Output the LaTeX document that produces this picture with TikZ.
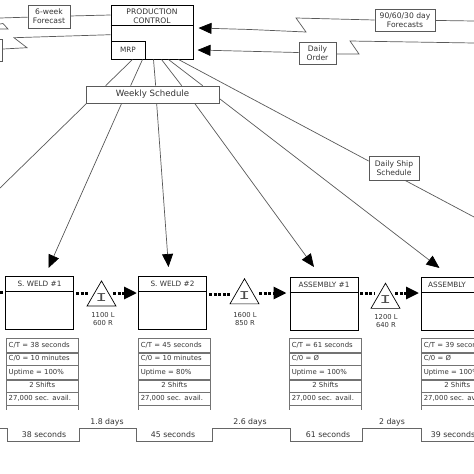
\documentclass[tikz,border=0pt]{standalone}
\usepackage{fontspec}
\setmainfont{DejaVu Sans}
\newfontfamily\beamfont{Liberation Mono}
\usetikzlibrary{arrows.meta}
\usetikzlibrary{positioning}
\usetikzlibrary{calc}
\usetikzlibrary{shapes.geometric}
\tikzset{
  infobox/.style={draw=black!65, line width=0.7pt, fill=white, align=center, text=black!80, font=\fontsize{7.6}{9}\selectfont, inner sep=0},
  procbox/.style={draw=black, line width=1pt, minimum width=68pt, minimum height=53pt, inner sep=0},
  databox/.style={draw=black!55, line width=0.5pt, minimum width=72pt, inner sep=0, anchor=north west, text=black!80, font=\fontsize{6.9}{8}\selectfont, text width=67pt, text height=5pt, text depth=1pt},
  invtri/.style={draw=black, line width=0.7pt, fill=white, regular polygon, regular polygon sides=3, inner sep=0, minimum size=33.5pt, text=black!70},
  flowline/.style={draw=black!65, line width=0.7pt},
  headline/.style={flowline, -{Triangle[length=13pt,width=11pt,black]}},
  pushline/.style={draw=black, line width=3pt, dash pattern=on 3.2pt off 1.4pt},
  pusharrow/.style={pushline, -{Triangle[length=13pt,width=12pt,black]}},
  lbl/.style={inner sep=0, align=center, text=black!80, font=\fontsize{7.3}{9}\selectfont},
  timelbl/.style={lbl, font=\fontsize{7.8}{9}\selectfont},
  stocklbl/.style={lbl, font=\fontsize{6.8}{8}\selectfont},
}
\begin{document}
\begin{tikzpicture}[x=1pt,y=-1pt]
  \useasboundingbox (0,0) rectangle (474,474);

  % production control
  \node[draw, line width=1pt, minimum width=82pt, minimum height=54pt, inner sep=0] (prod) at (152,32) {};
  \node[lbl, font=\fontsize{7.6}{9}\selectfont] (prodtxt) at (152,16) {PRODUCTION\\CONTROL};
  \draw[line width=1pt] ($(prod.north west)+(0,21)$) -- ($(prod.north east)+(0,21)$);
  \node[lbl, draw=black, line width=1pt, minimum width=34pt, minimum height=18pt, anchor=south west] (mrp) at (prod.south west) {MRP};

  % info boxes at the top
  \node[infobox, minimum width=42pt, minimum height=23pt] (fc6) at (49,16.5) {6-week\\Forecast};
  \node[infobox, minimum width=60pt, minimum height=22pt] (fc90) at (405,20) {90/60/30 day\\Forecasts};
  \node[infobox, minimum width=37pt, minimum height=22pt] (order) at (317.5,53) {Daily\\Order};
  \node[draw=black!65, line width=0.7pt, minimum width=8pt, minimum height=22pt, inner sep=0] (leftbox) at (-1.3,50) {};

  % connectors on the left
  \coordinate (edgeA) at (0,18);
  \draw[flowline] (edgeA) -- (fc6);
  \draw[flowline] (fc6) -- ($(prod.west)+(0,-17)$);
  \draw[flowline] ($(prod.west)+(0,2.7)$) -- (14,37.7) -- (27,47.7) -- ($(leftbox.east)+(0,-1)$);
  \draw[flowline] (0,24) -- (3,23.5) -- (8,29) -- (0,29);

  % connectors on the right
  \coordinate (edgeB) at (474,21);
  \coordinate (edgeC) at (474,43);
  \coordinate (tipA) at ($(prod.east)+(5,-4)$);
  \coordinate (tipB) at ($(prod.east)+(4,18)$);
  \draw[flowline] (fc90) -- (edgeB);
  \draw[flowline] (fc90.west) -- (296,18) -- (306,32) -- (250,29.5);
  \draw[headline] (250,29.5) -- (tipA);
  \draw[flowline] (order.east |- 0,54) -- (359,54) -- (350,41) -- (edgeC);
  \draw[headline] (order) -- (tipB);

  % weekly schedule and daily ship schedule
  \node[infobox, minimum width=133pt, minimum height=17pt, font=\fontsize{8.6}{9}\selectfont] (weekly) at (152.5,94.5) {Weekly Schedule};
  \node[infobox, minimum width=50pt, minimum height=24pt] (ship) at (394,168) {Daily Ship\\Schedule};
  \foreach \a/\b in {22/20,32/45,43/70,51/96,58/117}
    \draw[flowline] ($(prod.south west)+(\a,0)$) -- ($(weekly.north west)+(\b,0)$);
  \draw[flowline] ($(prod.south west)+(68,0)$) -- ($(ship.west)+(0,-7)$);
  \coordinate (edgeD) at (474,217);
  \coordinate (edgeE) at (0,188);
  \draw[flowline] ($(ship.south)+(11,0)$) -- (edgeD);
  \draw[flowline] ($(weekly.south west)+(1,0)$) -- (edgeE);

  % the process boxes
  \foreach \nm/\px/\py in {weld1/5/276,weld2/138/276,asm1/289.5/277,asm2/421/277} {
    \node[procbox, anchor=north west] (\nm) at (\px,\py) {};
    \draw[line width=1pt] ($(\nm.north west)+(0,15)$) -- ($(\nm.north east)+(0,15)$);
  }
  \node[lbl] (weld1txt) at ($(weld1.north)+(0,8)$) {S. WELD \#1};
  \node[lbl] (weld2txt) at ($(weld2.north)+(0,8)$) {S. WELD \#2};
  \node[lbl] (asm1txt) at ($(asm1.north)+(0,8)$) {ASSEMBLY \#1};
  \node[lbl, anchor=west] (asm2txt) at (428,285) {ASSEMBLY};

  % schedule arrows into the boxes
  \coordinate (tipC) at ($(weld1.north)+(9,-8)$);
  \coordinate (tipD) at ($(weld2.north)+(-4,-9)$);
  \coordinate (tipE) at ($(asm1.north)+(-10,-10)$);
  \coordinate (tipF) at ($(asm2.north)+(-16,-9)$);
  \draw[headline] ($(weekly.south west)+(36,0)$) -- (tipC);
  \draw[headline] ($(weekly.south west)+(71,0)$) -- (tipD);
  \draw[headline] ($(weekly.south west)+(109,0)$) -- (tipE);
  \draw[headline] ($(weekly.east)+(0,4)$) -- (tipF);

  % inventory triangles
  \foreach \nm/\px/\py in {tri1/101.5/297.7,tri2/244.5/295.5,tri3/385.5/300} {
    \node[invtri] (\nm) at (\px,\py) {\beamfont\fontsize{12}{12}\selectfont\scalebox{1.6}[1]{I}};
  }
  \node[stocklbl] (tri1txt) at (103,319) {1100 L\\600 R};
  \node[stocklbl] (tri2txt) at (245,319.5) {1600 L\\850 R};
  \node[stocklbl] (tri3txt) at (386,321) {1200 L\\640 R};

  % push arrows
  \coordinate (edgeF) at (0,292);
  \draw[pushline] (edgeF) -- ($(weld1.north west)+(-2,16)$);
  \draw[pushline] ($(weld1.north east)+(2,17)$) -- ($(tri1)+(-12,-4.7)$);
  \draw[pusharrow] ($(tri1)+(11.5,-4.7)$) -- ($(weld2.north west)+(-1,17)$);
  \draw[pushline] ($(weld2.north east)+(2,18)$) -- ($(tri2)+(-15,-1.5)$);
  \draw[pusharrow] ($(tri2)+(14.5,-2.5)$) -- ($(asm1.north west)+(-3,16)$);
  \draw[pushline] ($(asm1.north east)+(1.5,16)$) -- ($(tri3)+(-10.5,-7)$);
  \draw[pusharrow] ($(tri3)+(9.5,-7)$) -- ($(asm2.north west)+(-2,16)$);

  % data boxes under the processes
  \foreach \tag/\px/\ct/\co/\up in {a/6/38 seconds/10 minutes/100\%,b/138/45 seconds/10 minutes/80\%,c/289/61 seconds/Ø/100\%,d/421/39 seconds/Ø/100\%} {
    \node[databox, minimum height=14pt] (ct\tag) at (\px,338) {C/T = \ct};
    \node[databox, minimum height=12pt] (co\tag) at (ct\tag.south west) {C/0 = \co};
    \node[databox, minimum height=14pt] (up\tag) at (co\tag.south west) {Uptime = \up};
    \node[databox, minimum height=12pt, align=center] (sh\tag) at (up\tag.south west) {2 Shifts};
    \node[databox, minimum height=13pt] (av\tag) at (sh\tag.south west) {27,000 sec. avail.};
    \draw[draw=black!55, line width=0.6pt] (av\tag.south west) -- ++(0,4);
    \draw[draw=black!55, line width=0.6pt] (av\tag.south east) -- ++(0,4);
  }

  % timeline at the bottom
  \draw[draw=black!60, line width=0.7pt] (0,428) -- (7,428) -- (7,441) -- (79,441) -- (79,428) -- (136,428) -- (136,441) -- (212,441) -- (212,428) -- (290,428) -- (290,441) -- (362,441) -- (362,428) -- (421,428) -- (421,441) -- (474,441);
  \node[timelbl] (time1) at (44,434.5) {38 seconds};
  \node[timelbl] (time2) at (173,434.5) {45 seconds};
  \node[timelbl] (time3) at (328,434.5) {61 seconds};
  \node[timelbl] (time4) at (453,434.5) {39 seconds};
  \node[timelbl] (wait1) at (107,422.5) {1.8 days};
  \node[timelbl] (wait2) at (250,422.5) {2.6 days};
  \node[timelbl] (wait3) at (392,422.5) {2 days};
\end{tikzpicture}
\end{document}
